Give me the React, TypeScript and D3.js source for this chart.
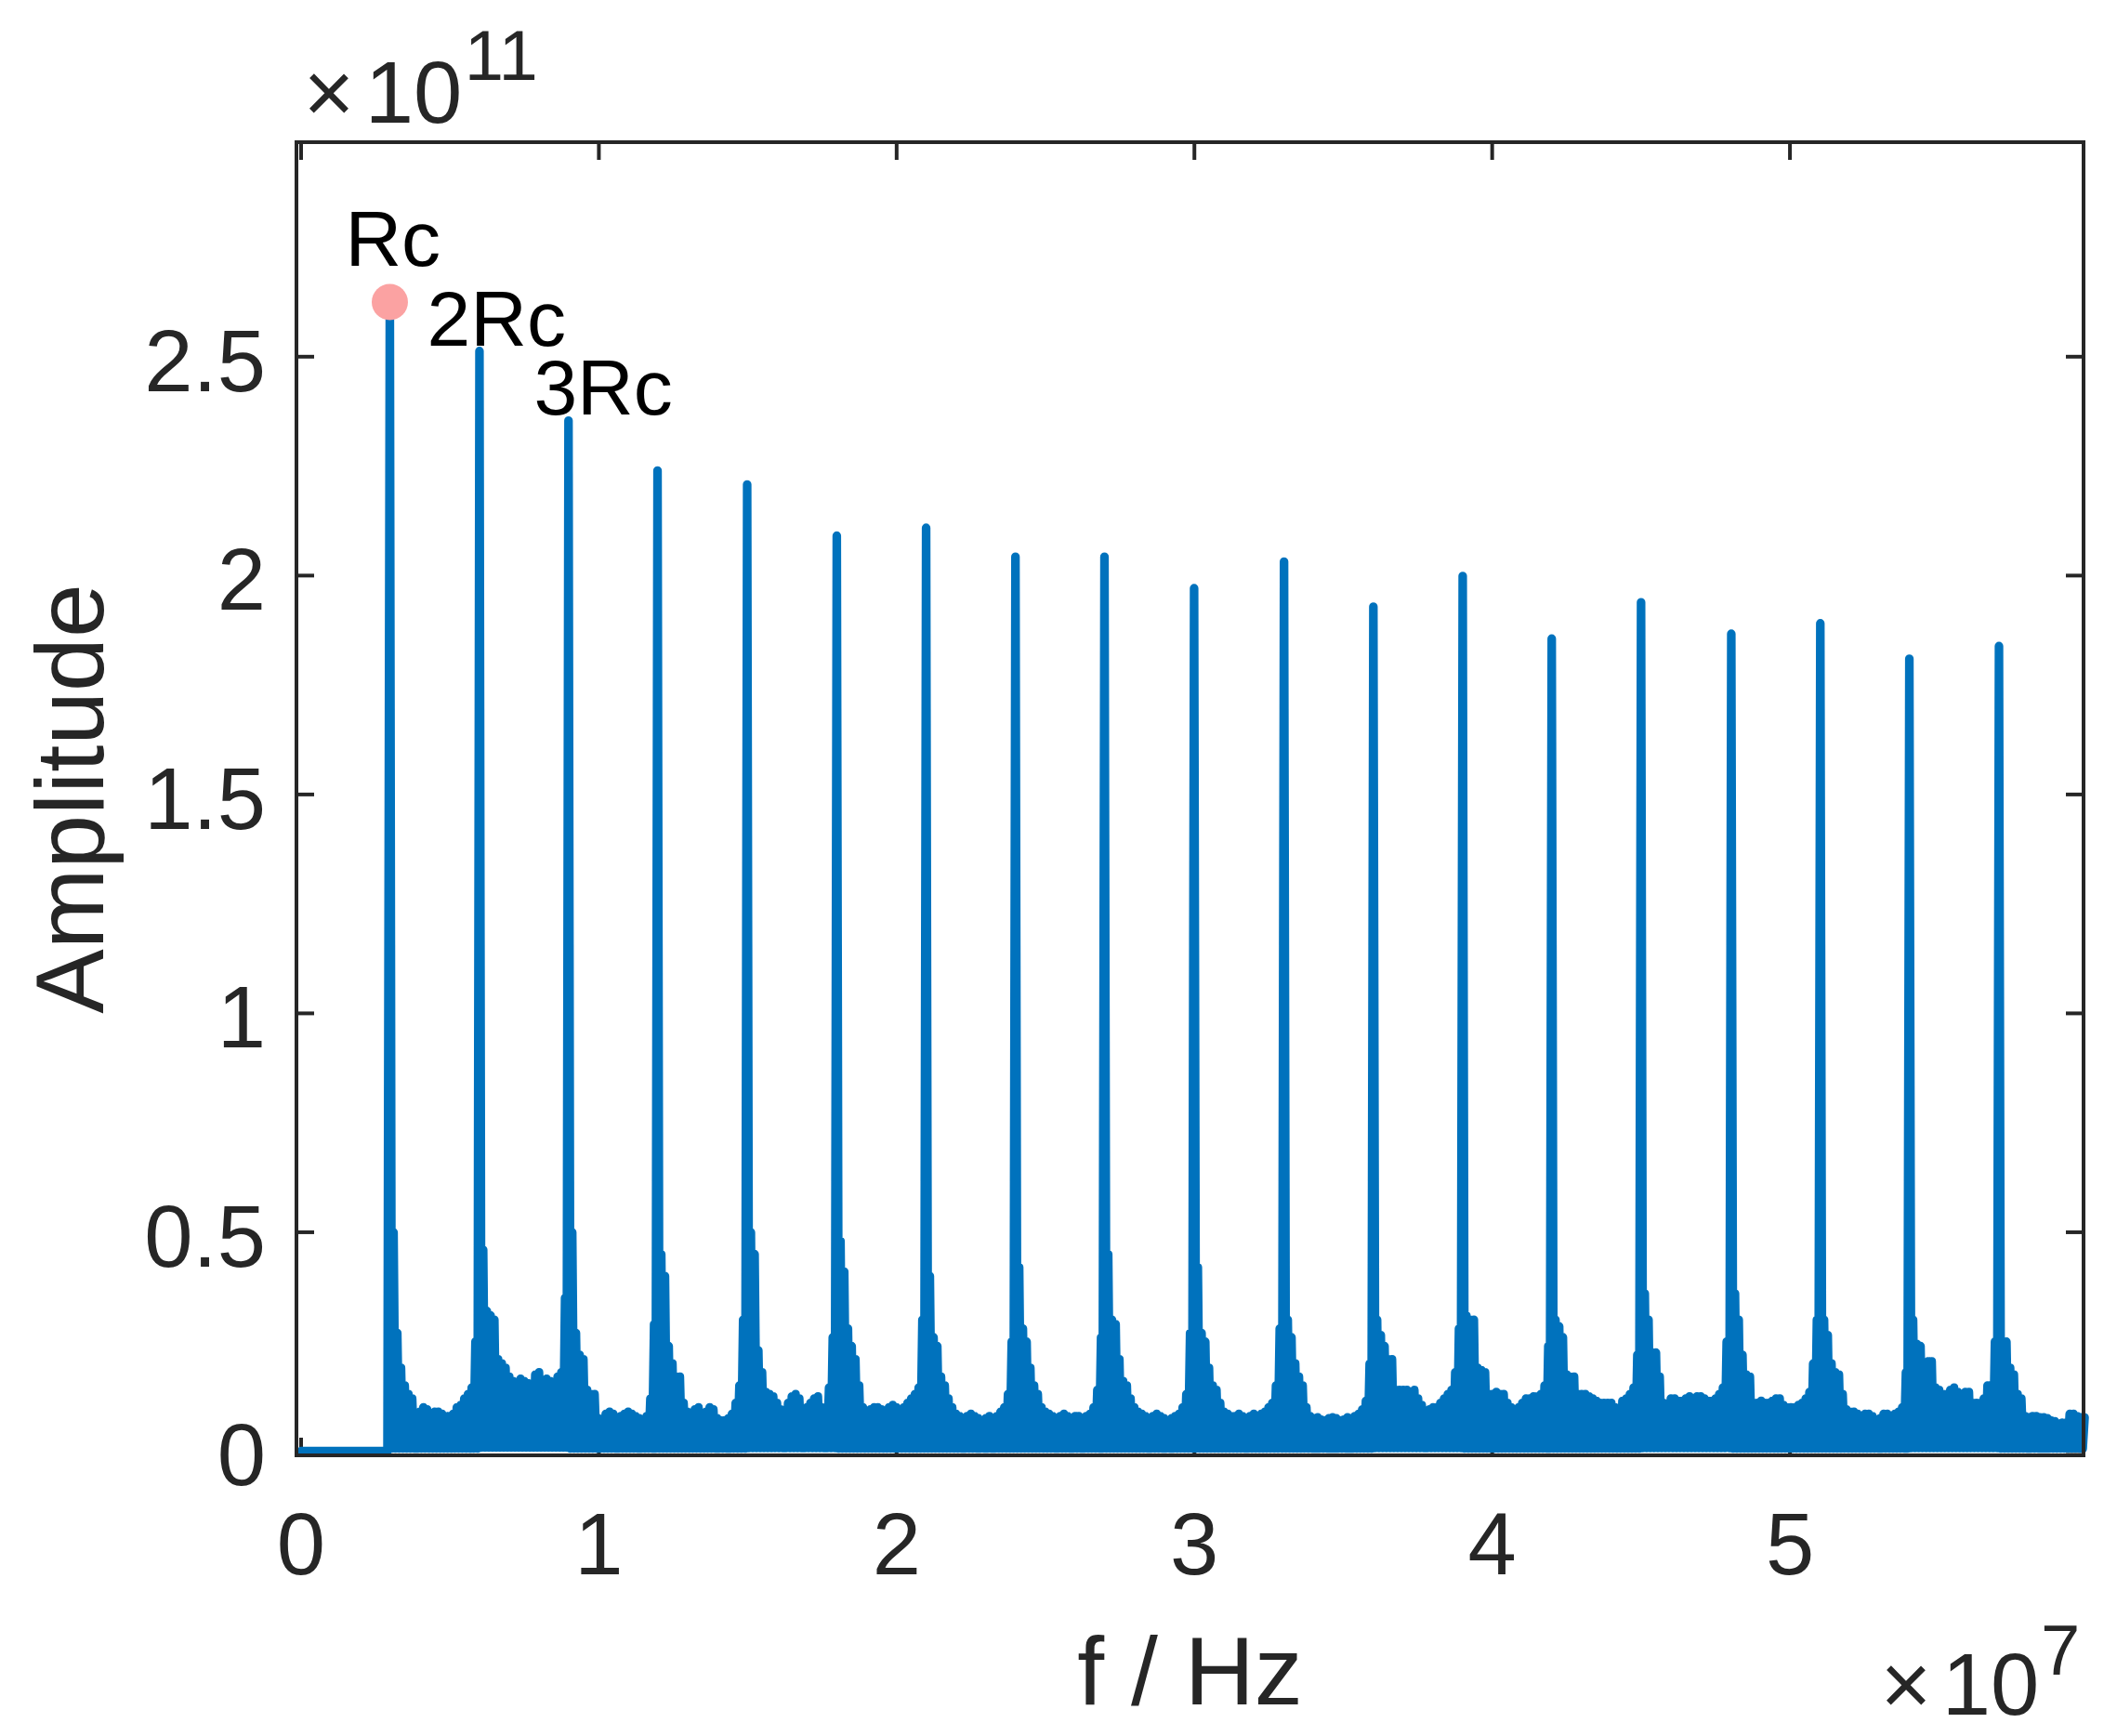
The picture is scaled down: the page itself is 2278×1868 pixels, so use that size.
import React from "react";
import * as d3 from "d3";

const W = 2278;
const H = 1868;

// harmonics of Rc: frequency (MHz) and amplitude (x1e11)
const peakFreqMHz = [
  2.98, 5.99, 8.98, 11.97, 14.98, 17.99, 20.99, 23.99, 26.98, 29.99, 33.01,
  36.01, 39.01, 42.0, 45.0, 48.03, 51.02, 54.01, 57.02,
];
const peakAmp = [
  2.625, 2.513, 2.354, 2.24, 2.208, 2.091, 2.109, 2.043, 2.043, 1.971, 2.032,
  1.929, 1.999, 1.856, 1.939, 1.867, 1.891, 1.81, 1.839,
];

// nothing below the first harmonic
const leadFreqMHz = [0, 2.9];
const leadAmp = [0, 0];

// noise after each harmonic: upper envelope read every 0.125 MHz (x1e11)
const sampleStepMHz = 0.125;
const gapTops: number[][] = [
  [0.5, 0.27, 0.19, 0.15, 0.13, 0.12, 0.075, 0.09, 0.1, 0.095, 0.085, 0.09, 0.09, 0.085, 0.08, 0.08, 0.085, 0.1, 0.105, 0.12, 0.13, 0.145, 0.25],
  [0.46, 0.32, 0.31, 0.3, 0.21, 0.2, 0.19, 0.17, 0.16, 0.15, 0.165, 0.16, 0.155, 0.15, 0.175, 0.18, 0.16, 0.165, 0.16, 0.155, 0.17, 0.18, 0.35],
  [0.5, 0.27, 0.22, 0.21, 0.14, 0.13, 0.13, 0.075, 0.07, 0.085, 0.09, 0.085, 0.075, 0.08, 0.085, 0.09, 0.085, 0.08, 0.075, 0.07, 0.08, 0.12, 0.29],
  [0.45, 0.4, 0.24, 0.2, 0.17, 0.17, 0.11, 0.09, 0.085, 0.095, 0.1, 0.085, 0.09, 0.1, 0.095, 0.075, 0.07, 0.07, 0.075, 0.085, 0.11, 0.15, 0.3],
  [0.5, 0.45, 0.23, 0.18, 0.135, 0.13, 0.125, 0.11, 0.095, 0.09, 0.11, 0.125, 0.13, 0.12, 0.08, 0.1, 0.11, 0.12, 0.125, 0.1, 0.09, 0.145, 0.26],
  [0.48, 0.41, 0.28, 0.24, 0.21, 0.15, 0.1, 0.09, 0.095, 0.1, 0.1, 0.095, 0.09, 0.1, 0.105, 0.1, 0.095, 0.1, 0.11, 0.12, 0.13, 0.145, 0.3],
  [0.4, 0.26, 0.24, 0.17, 0.15, 0.12, 0.1, 0.085, 0.08, 0.075, 0.08, 0.085, 0.08, 0.075, 0.07, 0.075, 0.08, 0.075, 0.08, 0.09, 0.1, 0.13, 0.25],
  [0.42, 0.28, 0.25, 0.19, 0.15, 0.13, 0.1, 0.09, 0.085, 0.08, 0.075, 0.08, 0.085, 0.08, 0.075, 0.08, 0.08, 0.075, 0.08, 0.085, 0.1, 0.14, 0.26],
  [0.45, 0.3, 0.29, 0.21, 0.16, 0.15, 0.12, 0.1, 0.09, 0.085, 0.08, 0.075, 0.08, 0.085, 0.08, 0.075, 0.07, 0.075, 0.08, 0.085, 0.1, 0.13, 0.27],
  [0.42, 0.27, 0.25, 0.19, 0.15, 0.14, 0.11, 0.09, 0.085, 0.08, 0.08, 0.085, 0.08, 0.075, 0.08, 0.085, 0.08, 0.085, 0.09, 0.1, 0.11, 0.15, 0.28],
  [0.3, 0.26, 0.2, 0.17, 0.15, 0.1, 0.08, 0.075, 0.077, 0.072, 0.07, 0.075, 0.077, 0.075, 0.07, 0.072, 0.077, 0.075, 0.08, 0.085, 0.095, 0.115, 0.2],
  [0.3, 0.265, 0.24, 0.21, 0.21, 0.14, 0.14, 0.14, 0.14, 0.135, 0.14, 0.12, 0.105, 0.09, 0.095, 0.1, 0.1, 0.11, 0.12, 0.13, 0.14, 0.18, 0.28],
  [0.31, 0.3, 0.3, 0.19, 0.185, 0.18, 0.13, 0.13, 0.135, 0.13, 0.13, 0.11, 0.1, 0.095, 0.1, 0.11, 0.12, 0.12, 0.125, 0.125, 0.13, 0.15, 0.24],
  [0.3, 0.285, 0.26, 0.175, 0.17, 0.17, 0.13, 0.13, 0.13, 0.125, 0.12, 0.115, 0.11, 0.11, 0.11, 0.11, 0.1, 0.08, 0.115, 0.12, 0.13, 0.145, 0.22],
  [0.36, 0.3, 0.225, 0.225, 0.17, 0.11, 0.105, 0.12, 0.12, 0.115, 0.115, 0.12, 0.125, 0.12, 0.125, 0.125, 0.12, 0.115, 0.115, 0.12, 0.13, 0.145, 0.25],
  [0.36, 0.3, 0.22, 0.175, 0.17, 0.11, 0.11, 0.115, 0.11, 0.11, 0.115, 0.12, 0.12, 0.105, 0.1, 0.1, 0.1, 0.105, 0.11, 0.12, 0.135, 0.2, 0.3],
  [0.3, 0.265, 0.2, 0.18, 0.175, 0.13, 0.095, 0.09, 0.09, 0.085, 0.08, 0.085, 0.085, 0.08, 0.07, 0.075, 0.085, 0.085, 0.08, 0.085, 0.09, 0.1, 0.18],
  [0.3, 0.245, 0.24, 0.195, 0.205, 0.205, 0.145, 0.14, 0.13, 0.13, 0.14, 0.145, 0.135, 0.13, 0.135, 0.135, 0.11, 0.11, 0.11, 0.12, 0.15, 0.15, 0.25],
  [0.25, 0.25, 0.19, 0.175, 0.13, 0.12, 0.08, 0.077, 0.08, 0.08, 0.077, 0.077, 0.075, 0.07, 0.068, 0.063, 0.065, 0.065, 0.085, 0.085, 0.08, 0.077, 0.077],
];
// bottom of the noise between samples (x1e11)
const gapFloor = [
  0.006, 0.008, 0.006, 0.006, 0.007, 0.006, 0.006, 0.006, 0.006, 0.006,
  0.006, 0.007, 0.006, 0.006, 0.007, 0.006, 0.006, 0.007, 0.006,
];

const xTicks = [0, 1, 2, 3, 4, 5]; // x1e7 Hz
const yTicks = [0, 0.5, 1, 1.5, 2, 2.5]; // x1e11

const notes = [
  { text: "Rc", fMHz: 1.479, amp: 2.707 },
  { text: "2Rc", fMHz: 4.229, amp: 2.526 },
  { text: "3Rc", fMHz: 7.815, amp: 2.367 },
];

const box = { left: 319, right: 2242, top: 153, bottom: 1566 };
const axisColor = "#262626";
const lineColor = "#0072BD";
const font = "'Liberation Sans', Arial, Helvetica, sans-serif";
const tickLen = 19;

export default function App() {
  const x = d3
    .scaleLinear()
    .domain([-0.156e6, 5.986e7])
    .range([box.left, box.right]);
  const y = d3
    .scaleLinear()
    .domain([-0.0096, 2.99])
    .range([box.bottom, box.top]);

  // build the spectrum: lead-in, then each harmonic followed by its noise
  const pts: [number, number][] = [];
  leadFreqMHz.forEach((f, i) => pts.push([f * 1e6, leadAmp[i]]));
  peakFreqMHz.forEach((pf, k) => {
    if (k > 0) pts.push([(pf - sampleStepMHz / 2) * 1e6, gapFloor[k - 1]]);
    pts.push([pf * 1e6, peakAmp[k]]);
    gapTops[k].forEach((v, j) => {
      const f = pf + (j + 1) * sampleStepMHz;
      pts.push([(f - sampleStepMHz / 2) * 1e6, gapFloor[k]]);
      pts.push([f * 1e6, v]);
    });
  });

  const line = d3
    .line<[number, number]>()
    .x((d) => x(d[0]))
    .y((d) => y(d[1]));

  const midX = (box.left + box.right) / 2;
  const midY = (box.top + box.bottom) / 2;

  return (
    <svg
      width={W}
      height={H}
      style={{ position: "absolute", left: 0, top: 0, background: "#fff" }}
      fontFamily={font}
    >
      <rect width={W} height={H} fill="#fff" />

      {/* ticks, inward on all four sides */}
      <g stroke={axisColor} strokeWidth={4}>
        {xTicks.map((t) => (
          <g key={"xt" + t}>
            <line x1={x(t * 1e7)} x2={x(t * 1e7)} y1={box.bottom} y2={box.bottom - tickLen} />
            <line x1={x(t * 1e7)} x2={x(t * 1e7)} y1={box.top} y2={box.top + tickLen} />
          </g>
        ))}
        {yTicks.map((t) => (
          <g key={"yt" + t}>
            <line x1={box.left} x2={box.left + tickLen} y1={y(t)} y2={y(t)} />
            <line x1={box.right} x2={box.right - tickLen} y1={y(t)} y2={y(t)} />
          </g>
        ))}
      </g>

      <path
        d={line(pts) ?? ""}
        fill="none"
        stroke={lineColor}
        strokeWidth={9.3}
        strokeLinejoin="round"
        strokeLinecap="round"
      />

      <circle
        cx={x(peakFreqMHz[0] * 1e6)}
        cy={y(peakAmp[0])}
        r={19.5}
        fill="#FBA2A2"
      />

      {notes.map((n) => (
        <text key={n.text} x={x(n.fMHz * 1e6)} y={y(n.amp)} fontSize={84} fill="#000">
          {n.text}
        </text>
      ))}

      <rect
        x={box.left}
        y={box.top}
        width={box.right - box.left}
        height={box.bottom - box.top}
        fill="none"
        stroke={axisColor}
        strokeWidth={4}
      />

      {/* tick labels */}
      <g fill={axisColor} fontSize={94}>
        {xTicks.map((t) => (
          <text key={"xl" + t} x={x(t * 1e7)} y={1694} textAnchor="middle">
            {String(t)}
          </text>
        ))}
        {yTicks.map((t) => (
          <text key={"yl" + t} x={286} y={y(t) + 37} textAnchor="end">
            {String(t)}
          </text>
        ))}
      </g>

      {/* exponent labels */}
      <g fill={axisColor}>
        <text x={326.4} y={132} fontSize={94}>×</text>
        <text x={392.8} y={132} fontSize={94}>10</text>
        <text x={499.8} y={86} fontSize={76}>11</text>
        <text x={2023.4} y={1845} fontSize={94}>×</text>
        <text x={2089.8} y={1845} fontSize={94}>10</text>
        <text x={2196} y={1802} fontSize={76}>7</text>
      </g>

      {/* axis titles */}
      <text x={midX} y={1834} textAnchor="middle" fontSize={104} fill={axisColor}>
        f / Hz
      </text>
      <text
        transform={`translate(111, ${midY}) rotate(-90)`}
        textAnchor="middle"
        fontSize={104}
        fill={axisColor}
      >
        Amplitude
      </text>
    </svg>
  );
}
